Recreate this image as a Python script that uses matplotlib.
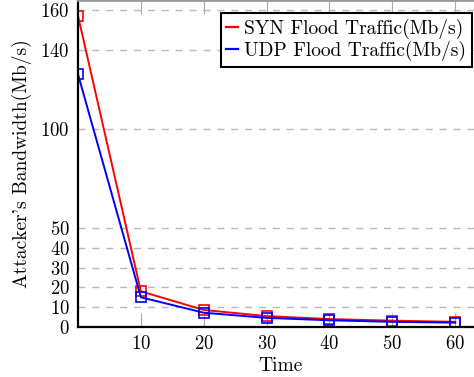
import matplotlib
matplotlib.use("Agg")
import matplotlib.pyplot as plt
from matplotlib.lines import Line2D

time = [0, 10, 20, 30, 40, 50, 60]
syn = [157, 18, 8.6, 5.5, 4.0, 3.2, 2.6]
udp = [127.5, 15, 7.2, 4.6, 3.4, 2.6, 2.2]
yticks = [0, 10, 20, 30, 40, 50, 100, 140, 160]
xticks = [10, 20, 30, 40, 50, 60]
labels = ['SYN Flood Traffic(Mb/s)', 'UDP Flood Traffic(Mb/s)']

plt.rcParams['font.family'] = ['cmr10', 'DejaVu Serif']
plt.rcParams['axes.formatter.use_mathtext'] = True

fig = plt.figure(figsize=(4.74, 3.77), dpi=100)
ax = fig.add_axes([78/474, 50/377, 1 - 78/474 + 0.02, 327/377])

ax.plot(time, syn, color='red', lw=1.4, marker='s', ms=7, mfc='none', mew=1.2)
ax.plot(time, udp, color='blue', lw=1.4, marker='s', ms=7, mfc='none', mew=1.2)

ax.set_xlim(0, 64.5)
ax.set_ylim(0, 165)
ax.set_yticks(yticks)
ax.set_xticks(xticks)
ax.yaxis.grid(True, linestyle=(0, (5, 5)), color='#b8b8b8', lw=1)
ax.set_axisbelow(True)
ax.tick_params(axis='both', labelsize=13.5, direction='in', length=0, pad=6)
ax.tick_params(axis='x', top=True, length=10, color='#aaaaaa')
for s in ['left', 'bottom']:
    ax.spines[s].set_linewidth(1.6)
ax.spines['top'].set_color('#999999')
ax.spines['top'].set_linewidth(2)
ax.spines['right'].set_visible(False)

ax.set_ylabel("Attacker's Bandwidth(Mb/s)", fontsize=14, labelpad=6)
ax.set_xlabel("Time", fontsize=14, labelpad=3)

handles = [Line2D([], [], color='red', lw=1.6), Line2D([], [], color='blue', lw=1.6)]
leg = ax.legend(handles, labels, loc='upper right', bbox_to_anchor=(0.995, 0.99),
                fontsize=14, handlelength=0.6, handletextpad=0.3, borderpad=0.3,
                labelspacing=0.1, fancybox=False, framealpha=1,
                edgecolor='black')
leg.get_frame().set_linewidth(1.5)

fig.savefig('out.png', dpi=100)
